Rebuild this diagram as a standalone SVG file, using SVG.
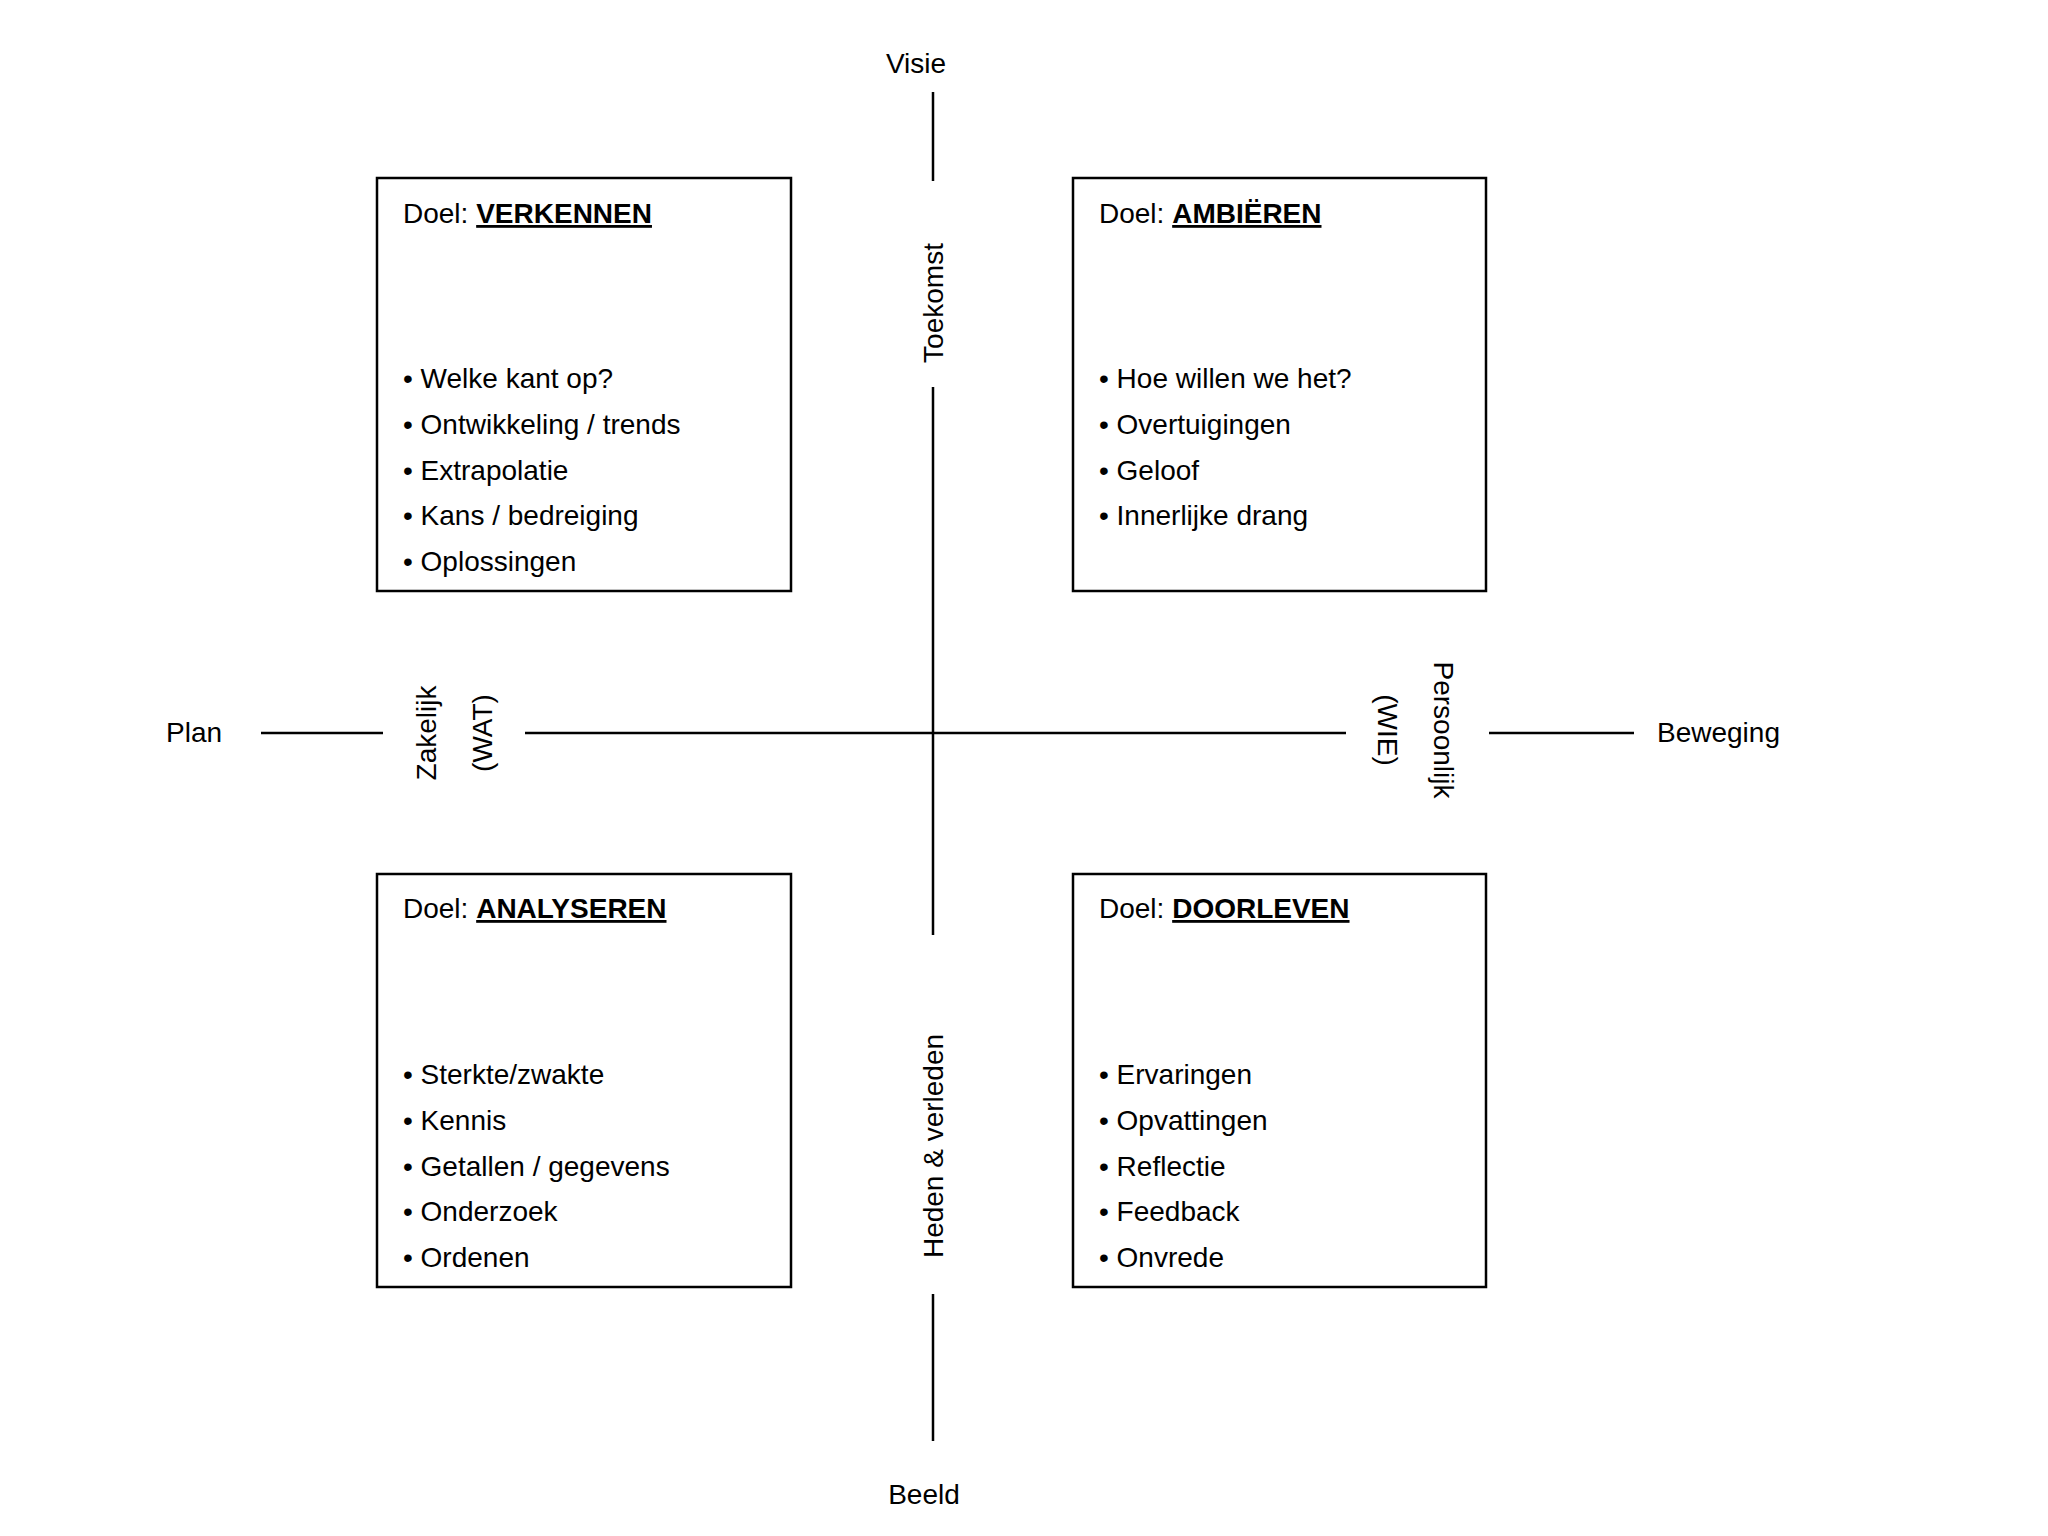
<svg xmlns="http://www.w3.org/2000/svg" width="2048" height="1536" viewBox="0 0 2048 1536">
<style>
text{font-family:"Liberation Sans",Arial,sans-serif;font-size:28px;fill:#000}
.b{font-weight:bold;text-decoration:underline}
.box{fill:#fff;stroke:#000;stroke-width:2.5}
line{stroke:#000;stroke-width:2.5}
.c{text-anchor:middle;dominant-baseline:central}
</style>
<rect width="2048" height="1536" fill="#fff"/>
<g id="connectors">
<line x1="933" y1="92" x2="933" y2="181"/>
<line x1="933" y1="387" x2="933" y2="935"/>
<line x1="933" y1="1294" x2="933" y2="1441"/>
<line x1="261" y1="733" x2="383" y2="733"/>
<line x1="525" y1="733" x2="1346" y2="733"/>
<line x1="1489" y1="733" x2="1634" y2="733"/>
</g>
<g id="axis-labels">
<text class="c" x="916" y="63">Visie</text>
<text class="c" x="924" y="1494">Beeld</text>
<text x="166" y="732" dominant-baseline="central">Plan</text>
<text x="1657" y="732" dominant-baseline="central">Beweging</text>
<text class="c" transform="translate(933,303) rotate(-90)">Toekomst</text>
<text class="c" transform="translate(933,1146) rotate(-90)">Heden &amp; verleden</text>
<text class="c" transform="translate(426,733) rotate(-90)">Zakelijk</text>
<text class="c" transform="translate(482,733) rotate(-90)">(WAT)</text>
<text class="c" transform="translate(1443,730) rotate(90)">Persoonlijk</text>
<text class="c" transform="translate(1387,730) rotate(90)">(WIE)</text>
</g>
<g id="verkennen">
<rect class="box" x="377" y="178" width="414" height="413"/>
<text x="403" y="223">Doel: <tspan class="b">VERKENNEN</tspan></text>
<text x="403" y="388">• Welke kant op?</text>
<text x="403" y="434">• Ontwikkeling / trends</text>
<text x="403" y="480">• Extrapolatie</text>
<text x="403" y="525">• Kans / bedreiging</text>
<text x="403" y="571">• Oplossingen</text>
</g>
<g id="ambieren">
<rect class="box" x="1073" y="178" width="413" height="413"/>
<text x="1099" y="223">Doel: <tspan class="b">AMBIËREN</tspan></text>
<text x="1099" y="388">• Hoe willen we het?</text>
<text x="1099" y="434">• Overtuigingen</text>
<text x="1099" y="480">• Geloof</text>
<text x="1099" y="525">• Innerlijke drang</text>
</g>
<g id="analyseren">
<rect class="box" x="377" y="874" width="414" height="413"/>
<text x="403" y="918">Doel: <tspan class="b">ANALYSEREN</tspan></text>
<text x="403" y="1084">• Sterkte/zwakte</text>
<text x="403" y="1130">• Kennis</text>
<text x="403" y="1176">• Getallen / gegevens</text>
<text x="403" y="1221">• Onderzoek</text>
<text x="403" y="1267">• Ordenen</text>
</g>
<g id="doorleven">
<rect class="box" x="1073" y="874" width="413" height="413"/>
<text x="1099" y="918">Doel: <tspan class="b">DOORLEVEN</tspan></text>
<text x="1099" y="1084">• Ervaringen</text>
<text x="1099" y="1130">• Opvattingen</text>
<text x="1099" y="1176">• Reflectie</text>
<text x="1099" y="1221">• Feedback</text>
<text x="1099" y="1267">• Onvrede</text>
</g>
</svg>
